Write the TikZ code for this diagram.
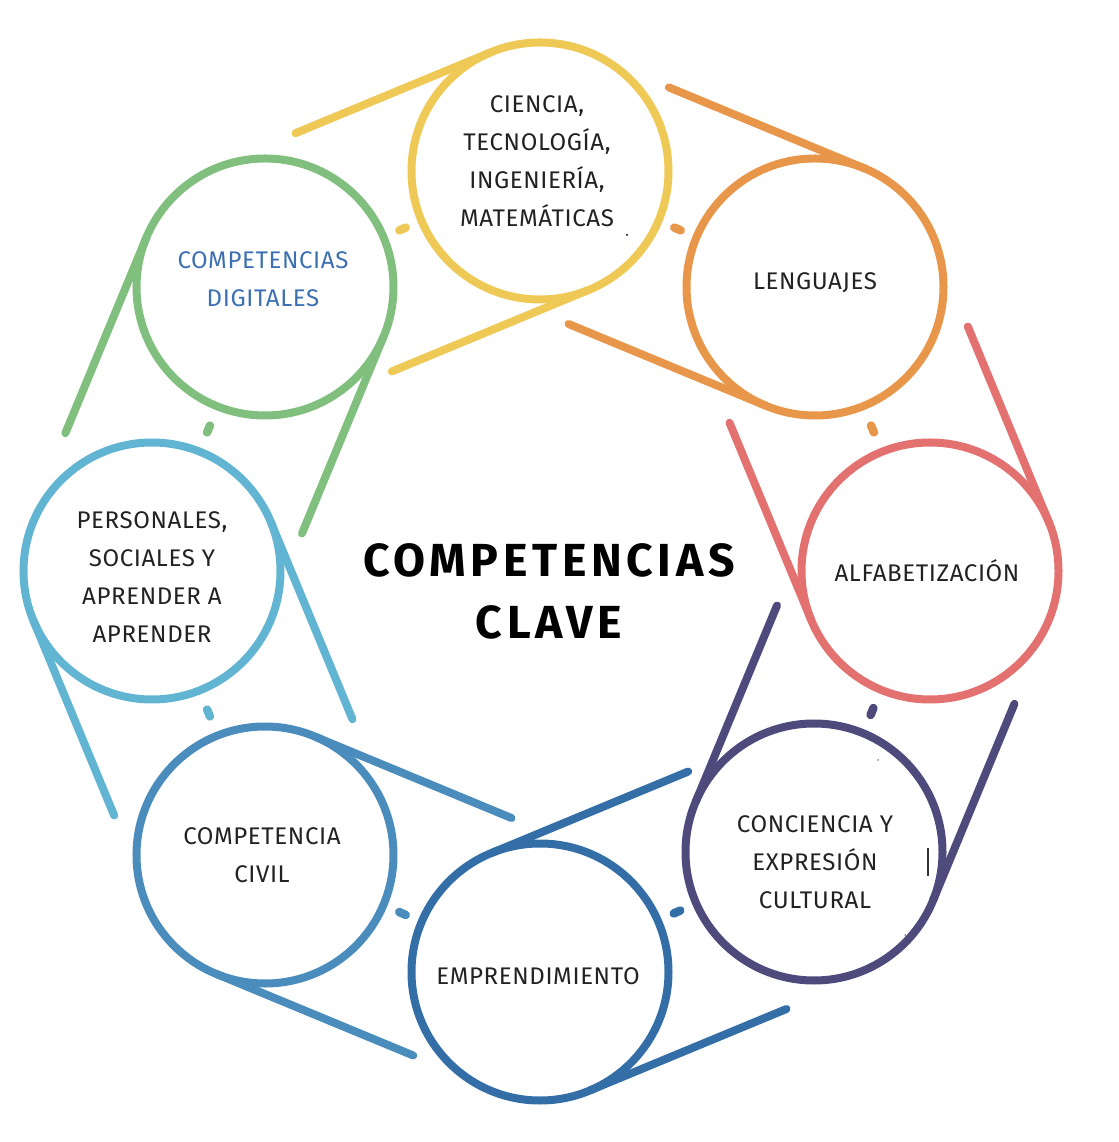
\documentclass[tikz,border=0pt]{standalone}
\usepackage{fontspec}
\setmainfont{Fira Sans}
\usetikzlibrary{calc}

\definecolor{cienYellow}{HTML}{EFC955}
\definecolor{lengOrange}{HTML}{E8974A}
\definecolor{alfaRed}{HTML}{E2716F}
\definecolor{concPurple}{HTML}{4F4A7C}
\definecolor{emprBlue}{HTML}{336EA6}
\definecolor{civilBlue}{HTML}{4A8CBC}
\definecolor{persBlue}{HTML}{62B5D2}
\definecolor{digiGreen}{HTML}{80BF7E}
\definecolor{digiText}{HTML}{3D70B0}
\definecolor{textGray}{HTML}{222222}

\tikzset{
    ring/.style={circle, draw=#1, line width=0.16cm, minimum size=5.14cm, inner sep=0pt, outer sep=0pt},
    ringtext/.style={align=center, text=textGray, inner sep=0pt,
        font=\fontsize{13.7}{21.6}\selectfont\addfontfeature{LetterSpace=2.5}},
    tail/.style={draw=#1, line width=0.16cm, line cap=round},
    joint/.style={draw=#1, line width=0.17cm, line cap=round},
    speck/.style={fill=black!80, draw=none},
}

\begin{document}
\begin{tikzpicture}
    \useasboundingbox (-10.8,-11.42) rectangle (11.56,11.42);

    % The eight competences around the centre
    \node[ring=cienYellow] (cien) at (0,8.0) {};
    \node[ring=lengOrange] (leng) at (5.5,5.68) {};
    \node[ring=alfaRed] (alfa) at (7.8,0) {};
    \node[ring=concPurple] (conc) at (5.48,-5.62) {};
    \node[ring=emprBlue] (empr) at (0,-8.02) {};
    \node[ring=civilBlue] (civil) at (-5.5,-5.68) {};
    \node[ring=persBlue] (pers) at (-7.76,0) {};
    \node[ring=digiGreen] (digi) at (-5.5,5.68) {};

    % Their texts
    \node[ringtext] (cienText) at ($(cien)+(-0.06,0.2)$) {CIENCIA,\\TECNOLOGÍA,\\INGENIERÍA,\\MATEMÁTICAS};
    \node[ringtext] (lengText) at ($(leng)+(0,0.08)$) {LENGUAJES};
    \node[ringtext] (alfaText) at ($(alfa)+(-0.06,0)$) {ALFABETIZACIÓN};
    \node[ringtext] (concText) at ($(conc)+(0.02,-0.2)$) {CONCIENCIA Y\\EXPRESIÓN\\CULTURAL};
    \node[ringtext] (emprText) at ($(empr)+(-0.04,-0.08)$) {EMPRENDIMIENTO};
    \node[ringtext] (civilText) at ($(civil)+(-0.06,0)$) {COMPETENCIA\\CIVIL};
    \node[ringtext] (persText) at ($(pers)+(0,-0.12)$) {PERSONALES,\\SOCIALES Y\\APRENDER A\\APRENDER};
    \node[ringtext, text=digiText] (digiText) at ($(digi)+(-0.04,0.16)$) {COMPETENCIAS\\DIGITALES};

    % Title in the middle
    \node[align=center, font=\fontsize{26.4}{35.3}\selectfont\bfseries\addfontfeature{LetterSpace=10}] (title)
        at (0.18,-0.4) {COMPETENCIAS\\CLAVE};

    % Two tangent tails on each ring
    \foreach \n/\t/\c [evaluate=\t as \ta using \t+22.5, evaluate=\t as \tb using \t+202.5,
            evaluate=\t as \td using \t+112.5] in
        {cien/90/cienYellow, leng/45/lengOrange, alfa/0/alfaRed, conc/-45/concPurple,
         empr/-90/emprBlue, civil/-135/civilBlue, pers/180/persBlue, digi/135/digiGreen} {
            \draw[tail=\c] (\n.\ta) -- ++(\td:4.25);
            \draw[tail=\c] (\n.\tb) -- ++(\td:4.25);
        }

    % Short dashes between neighbours
    \foreach \a/\b/\c in {digi/cien/cienYellow, cien/leng/lengOrange, leng/alfa/lengOrange,
        alfa/conc/concPurple, conc/empr/emprBlue, empr/civil/civilBlue,
        civil/pers/persBlue, pers/digi/digiGreen} {
            \draw[joint=\c] ($(\a)!0.488!(\b)$) -- ($(\a)!0.512!(\b)$);
        }

    % Stray marks
    \fill[speck] (1.74,6.72) circle (0.025);
    \fill[speck] (6.76,-3.78) circle (0.015);
    \fill[speck] (7.3,-7.28) circle (0.015);
    \draw[black!80, line width=0.04cm] (7.76,-5.54) -- (7.76,-6.1);
\end{tikzpicture}
\end{document}
